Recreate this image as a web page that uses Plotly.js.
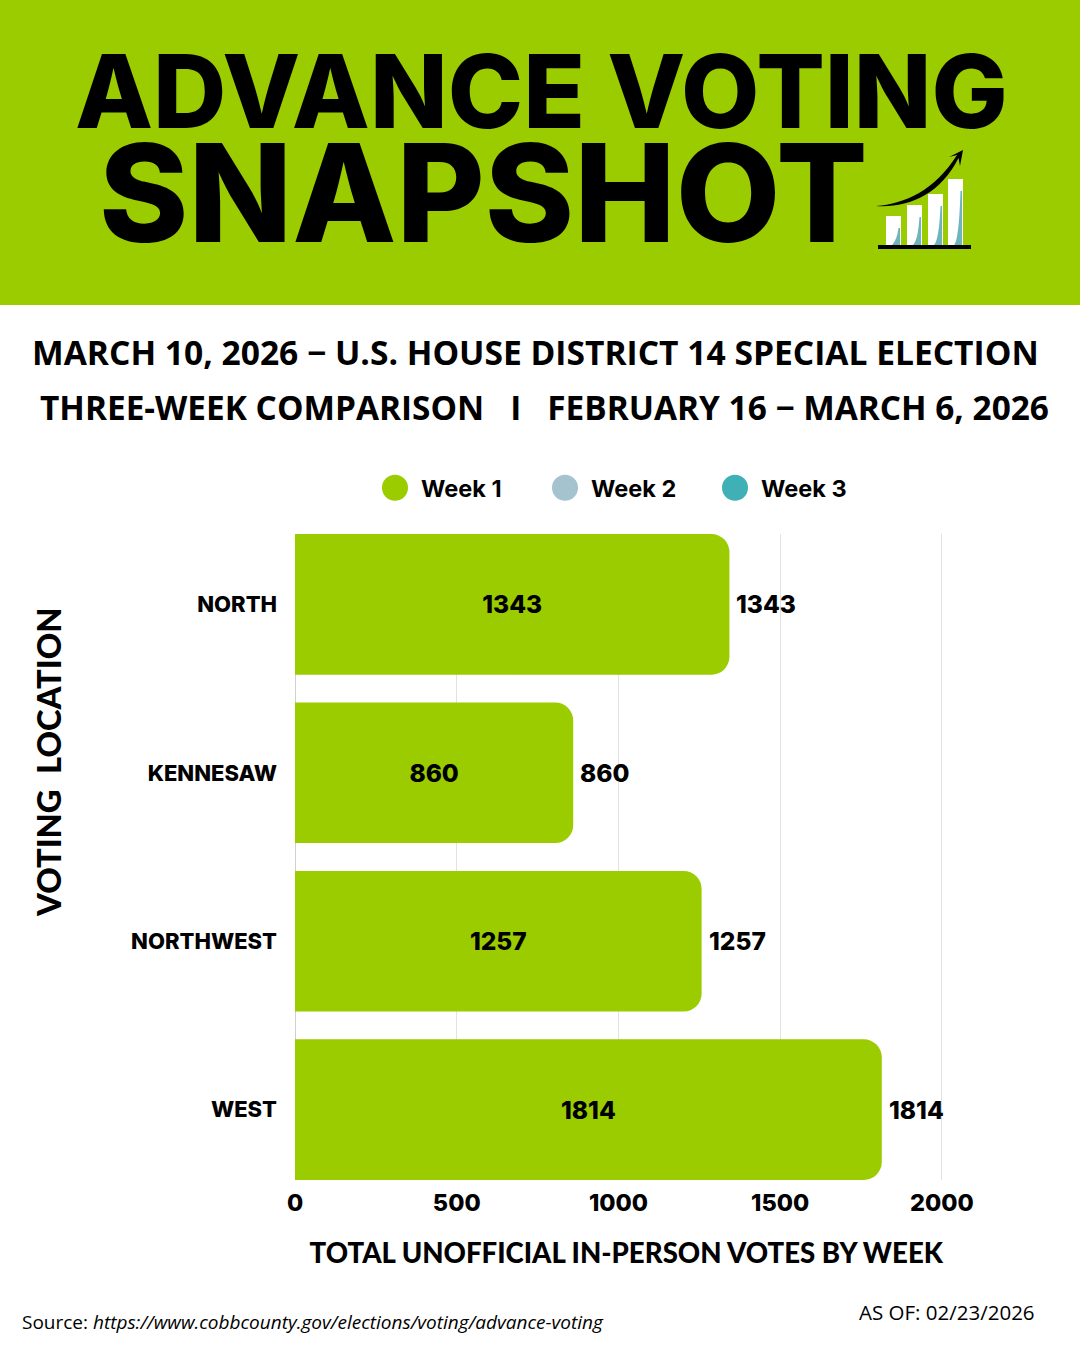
<!DOCTYPE html>
<html>
<head>
<meta charset="utf-8">
<script src="https://cdn.plot.ly/plotly-3.0.1.min.js"></script>
<style>html,body{margin:0;padding:0;background:#fff}#c{width:1080px;height:1350px}</style>
</head>
<body>
<div id="c"></div>
<script>
const locations = ["NORTH", "KENNESAW", "NORTHWEST", "WEST"];
const week1 = [1343, 860, 1257, 1814];
const week2 = [null, null, null, null];
const week3 = [null, null, null, null];
const seriesNames = ["Week 1", "Week 2", "Week 3"];
const seriesColors = ["#9bcc00", "#a5c3cf", "#3fb0b5"];
const xTicks = [0, 500, 1000, 1500, 2000];

const W = 1080, H = 1350;
const px = x => x / W;
const py = y => 1 - y / H;
const numFont = {family: "Inter, Liberation Sans, sans-serif", size: 24.5, color: "#000", weight: 800};
const axisFont = {family: "Inter, Liberation Sans, sans-serif", size: 23.5, color: "#000", weight: 800};
const catFont = {family: "Inter, Liberation Sans, sans-serif", size: 22, color: "#000", weight: 800};
const heavy = "Lato, Inter, sans-serif";
const display = "Inter, Lato, sans-serif";

const legendMarker = c => ({color: c, size: 16, line: {color: c, width: 5}});
const traces = [
  {type: "bar", orientation: "h", name: seriesNames[0], showlegend: false, x: week1, y: locations,
   marker: {color: seriesColors[0]}, width: 0.835,
   text: week1.map(String), textposition: "inside", insidetextanchor: "middle",
   textangle: 0, insidetextfont: numFont, constraintext: "none"},
  {type: "scatter", mode: "markers", name: seriesNames[0], x: week2, y: locations, marker: legendMarker(seriesColors[0])},
  {type: "scatter", mode: "markers", name: seriesNames[1], x: week2, y: locations, marker: legendMarker(seriesColors[1])},
  {type: "scatter", mode: "markers", name: seriesNames[2], x: week3, y: locations, marker: legendMarker(seriesColors[2])}
];

function rectPath(x0, y0, x1, y1) {
  return `M${px(x0)},${py(y0)}L${px(x1)},${py(y0)}L${px(x1)},${py(y1)}L${px(x0)},${py(y1)}Z`;
}
const shape = (path, fill) => ({type: "path", xref: "paper", yref: "paper", path, fillcolor: fill, line: {width: 0}, layer: "above"});
const iconBars = [[886, 216], [907, 205], [928, 194], [948, 179]];
const iconShapes = [];
iconBars.forEach(([x, top]) => {
  iconShapes.push(shape(rectPath(x, top, x + 15, 245), "#ffffff"));
  iconShapes.push(shape(`M${px(x + 6)},${py(245)}Q${px(x + 11)},${py(240)} ${px(x + 12.5)},${py(top + 12)}L${px(x + 14)},${py(top + 12)}L${px(x + 14)},${py(245)}Z`, "#6fb4bd"));
});
iconShapes.push(shape(rectPath(878, 245, 971, 249), "#000000"));
iconShapes.push(shape(`M${px(876)},${py(206)}C${px(905)},${py(204)} ${px(935)},${py(190)} ${px(957)},${py(155)}L${px(949)},${py(157)}L${px(963)},${py(150)}L${px(960)},${py(166)}L${px(958.5)},${py(158)}C${px(940)},${py(195)} ${px(908)},${py(208)} ${px(876)},${py(206)}Z`, "#000000"));

const text = (t, x, y, size, family, weight, extra) => Object.assign({
  text: t, xref: "paper", yref: "paper", x: px(x), y: py(y), showarrow: false,
  xanchor: "center", yanchor: "middle",
  font: {family, size, color: "#000", weight}
}, extra || {});

const valueLabels = week1.map((v, i) => ({
  text: String(v), xref: "x", yref: "y", x: v, y: locations[i], showarrow: false,
  xanchor: "left", yanchor: "middle", xshift: 5, font: numFont
}));

const layout = {
  width: W, height: H,
  margin: {l: 0, r: 0, t: 0, b: 0},
  paper_bgcolor: "#ffffff", plot_bgcolor: "#ffffff",
  showlegend: true,
  hovermode: false,
  barcornerradius: 18,
  legend: {orientation: "h", x: px(369), y: py(488), xanchor: "left", yanchor: "middle",
           entrywidth: 113, entrywidthmode: "pixels", itemwidth: 42, traceorder: "normal",
           font: {family: "Inter, sans-serif", size: 23.5, color: "#000", weight: 700}},
  xaxis: {domain: [px(295), px(945.2)], range: [0, 2010], tickvals: xTicks, ticks: "",
          showgrid: true, gridcolor: "#e2e2e2", gridwidth: 1, zeroline: true, zerolinecolor: "#d0d0d0",
          tickfont: axisFont, ticklabelstandoff: 6,
          title: {text: "\u200b\u00a0\u00a0TOTAL UNOFFICIAL IN-PERSON VOTES BY WEEK", standoff: 28,
                  font: {family: heavy, size: 27.6, color: "#000", weight: 900}}},
  yaxis: {domain: [py(1180), py(534)], range: [3.418, -0.418], type: "category",
          categoryorder: "array", categoryarray: locations, ticks: "", showgrid: false,
          showline: false, tickfont: catFont, ticklabelstandoff: 17},
  shapes: [
    {type: "rect", xref: "paper", yref: "paper", x0: 0, x1: 1, y0: py(305), y1: 1,
     fillcolor: seriesColors[0], line: {width: 0}, layer: "below"}
  ].concat(iconShapes),
  annotations: valueLabels.concat([
    text("ADVANCE VOTING", 541.5, 91, 101.5, display, 800),
    text("SNAPSHOT", 483.5, 193, 135.5, display, 800),
    text("MARCH 10, 2026 − U.S. HOUSE DISTRICT 14 SPECIAL ELECTION", 535, 352.5, 33.6, "Open Sans, sans-serif", 700),
    text("THREE-WEEK COMPARISON\u00a0\u00a0\u00a0I\u00a0\u00a0\u00a0FEBRUARY 16 − MARCH 6, 2026", 544, 407.5, 33.4, "Open Sans, sans-serif", 700),
    text("VOTING\u00a0\u00a0LOCATION", 48, 762, 32.7, heavy, 900, {textangle: -90}),
    text("Source: <i>https://www.cobbcounty.gov/elections/voting/advance-voting</i>", 20, 1322, 19, "Open Sans, sans-serif", 400, {xanchor: "left"}),
    text("AS OF: 02/23/2026", 947, 1312, 20.5, "Open Sans, sans-serif", 400)
  ])
};

Plotly.newPlot("c", traces, layout, {displayModeBar: false, responsive: false}).then(gd => {
  gd.querySelectorAll(".legend .legendpoints path").forEach(p => {
    const t = p.getAttribute("transform") || "";
    if (t) p.setAttribute("transform", t + " scale(1.24)");
  });
});
</script>
</body>
</html>
